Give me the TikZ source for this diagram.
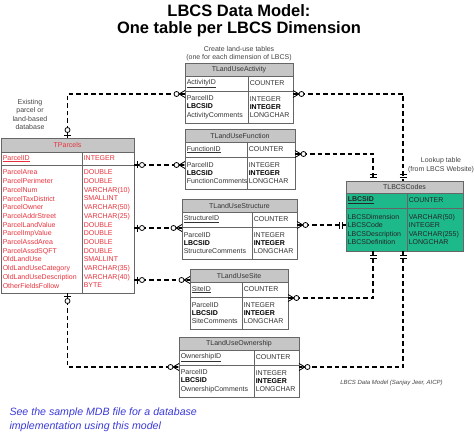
\documentclass[tikz,border=0pt]{standalone}
\usepackage{fontspec}
\setmainfont{Liberation Sans}
\usepackage{tikz}
\usetikzlibrary{
	positioning
}

\definecolor{hdrgray}{HTML}{C6C6C6}
\definecolor{tblline}{HTML}{666666}
\definecolor{tbltext}{HTML}{333333}
\definecolor{parcelred}{HTML}{E8313B}
\definecolor{lbcsgreen}{HTML}{1DB98A}
\definecolor{notegray}{HTML}{444444}
\definecolor{noteblue}{HTML}{3A3AD8}

\newcommand\tblfont{\fontsize{7}{8.4}\selectfont}
\newcommand\fk[1]{\textcolor{black}{\textbf{#1}}}

\begin{document}
\begin{tikzpicture}[
		x=1pt, y=-1pt,
		tbl/.style={draw=tblline, line width=0.8pt, inner sep=0pt, outer sep=0pt, anchor=north west, font=\tblfont, text=tbltext},
		hdr/.style={tbl, fill=hdrgray, align=center},
		keyrow/.style={tbl, align=left, inner xsep=1.8pt, minimum height=15pt},
		fieldrows/.style={tbl, align=left, inner xsep=1.8pt, minimum height=#1pt},
		link/.style={line width=1.2pt, dash pattern=on 4.5pt off 3pt},
		note/.style={font=\fontsize{7}{8.3}\selectfont, text=notegray, align=center},
		zeroone/.pic={
			\draw[solid, line width=0.8pt] (3,-3.5) -- (3,3.5);
			\draw[solid, line width=0.8pt, fill=white] (8,0) circle[radius=2.5];
		},
		zeromany/.pic={
			\draw[solid, line width=0.8pt] (0,-3.5) -- (6,0) -- (0,3.5) (0,0) -- (6,0);
			\draw[solid, line width=0.8pt, fill=white] (8.5,0) circle[radius=2.5];
		},
		oneone/.pic={
			\draw[solid, line width=0.8pt] (4,-3.5) -- (4,3.5) (7,-3.5) -- (7,3.5);
		}
	]
	\useasboundingbox (0,0) rectangle (474,433);

	\node[font=\fontsize{16.5}{17}\selectfont\bfseries, align=center] (title) at (239,20.5) {LBCS Data Model:\\One table per LBCS Dimension};
	\node[note] (createnote) at (239,54) {Create land-use tables\\(one for each dimension of LBCS)};
	\node[note] (existnote) at (30,114.5) {Existing\\parcel or\\land-based\\database};
	\node[note, font=\fontsize{7}{8.5}\selectfont] (lookupnote) at (441,165) {Lookup table\\(from LBCS Website)};
	\node[font=\fontsize{6}{7}\selectfont\itshape, text=notegray] (credit) at (391.5,383) {LBCS Data Model (Sanjay Jeer, AICP)};
	\node[anchor=west, font=\fontsize{10.6}{13.5}\selectfont\itshape, text=noteblue, align=left] (mdbnote) at (6,420) {See the sample MDB file for a database\\implementation using this model};

	\node[hdr, text=parcelred, minimum width=133pt, minimum height=14pt] (parcels) at (1,138) {TParcels};
	\node[keyrow, text=parcelred, minimum height=13pt, text width=77.4pt] (parcelsK) at (parcels.south west) {\underline{ParcelID}};
	\node[keyrow, text=parcelred, minimum height=13pt, text width=48.4pt, right=0pt of parcelsK] (parcelsKT) {INTEGER};
	\node[fieldrows=128, text=parcelred, font=\fontsize{7}{8.7}\selectfont, text width=77.4pt] (parcelsB) at (parcelsK.south west) {ParcelArea\\ParcelPerimeter\\ParcelNum\\ParcelTaxDistrict\\ParcelOwner\\ParcelAddrStreet\\ParcelLandValue\\ParcelImpValue\\ParcelAssdArea\\ParcelAssdSQFT\\OldLandUse\\OldLandUseCategory\\OldLandUseDescription\\OtherFieldsFollow};
	\node[fieldrows=128, text=parcelred, font=\fontsize{7}{8.7}\selectfont, text width=48.4pt, right=0pt of parcelsB] (parcelsBT) {DOUBLE\\DOUBLE\\VARCHAR(10)\\SMALLINT\\VARCHAR(50)\\VARCHAR(25)\\DOUBLE\\DOUBLE\\DOUBLE\\DOUBLE\\SMALLINT\\VARCHAR(35)\\VARCHAR(40)\\BYTE};

	\node[hdr, minimum width=108pt, minimum height=13pt] (act) at (185,63) {TLandUseActivity};
	\node[keyrow, text width=59.4pt] (actK) at (act.south west) {\underline{ActivityID}};
	\node[keyrow, text width=41.4pt, right=0pt of actK] (actKT) {COUNTER};
	\node[fieldrows=32, text width=59.4pt] (actB) at (actK.south west) {ParcelID\\\fk{LBCSID}\\ActivityComments};
	\node[fieldrows=32, text width=41.4pt, right=0pt of actB] (actBT) {INTEGER\\\fk{INTEGER}\\LONGCHAR};

	\node[hdr, minimum width=110pt, minimum height=13pt] (func) at (185,129) {TLandUseFunction};
	\node[keyrow, text width=58.4pt] (funcK) at (func.south west) {\underline{FunctionID}};
	\node[keyrow, text width=44.4pt, right=0pt of funcK] (funcKT) {COUNTER};
	\node[fieldrows=32, text width=58.4pt] (funcB) at (funcK.south west) {ParcelID\\\fk{LBCSID}\\FunctionComments};
	\node[fieldrows=32, text width=44.4pt, right=0pt of funcB] (funcBT) {INTEGER\\\fk{INTEGER}\\LONGCHAR};

	\node[hdr, minimum width=115pt, minimum height=13pt] (str) at (182,199) {TLandUseStructure};
	\node[keyrow, text width=66.4pt] (strK) at (str.south west) {\underline{StructureID}};
	\node[keyrow, text width=41.4pt, right=0pt of strK] (strKT) {COUNTER};
	\node[fieldrows=32, text width=66.4pt] (strB) at (strK.south west) {ParcelID\\\fk{LBCSID}\\StructureComments};
	\node[fieldrows=32, text width=41.4pt, right=0pt of strB] (strBT) {INTEGER\\\fk{INTEGER}\\LONGCHAR};

	\node[hdr, minimum width=98pt, minimum height=13pt] (site) at (190,269) {TLandUseSite};
	\node[keyrow, text width=48.4pt] (siteK) at (site.south west) {\underline{SiteID}};
	\node[keyrow, text width=42.4pt, right=0pt of siteK] (siteKT) {COUNTER};
	\node[fieldrows=32, text width=48.4pt] (siteB) at (siteK.south west) {ParcelID\\\fk{LBCSID}\\SiteComments};
	\node[fieldrows=32, text width=42.4pt, right=0pt of siteB] (siteBT) {INTEGER\\\fk{INTEGER}\\LONGCHAR};

	\node[hdr, minimum width=120pt, minimum height=13pt] (own) at (179,337) {TLandUseOwnership};
	\node[keyrow, text width=71.4pt] (ownK) at (own.south west) {\underline{OwnershipID}};
	\node[keyrow, text width=41.4pt, right=0pt of ownK] (ownKT) {COUNTER};
	\node[fieldrows=32, text width=71.4pt] (ownB) at (ownK.south west) {ParcelID\\\fk{LBCSID}\\OwnershipComments};
	\node[fieldrows=32, text width=41.4pt, right=0pt of ownB] (ownBT) {INTEGER\\\fk{INTEGER}\\LONGCHAR};

	\node[hdr, minimum width=117pt, minimum height=12pt] (codes) at (346,181) {TLBCSCodes};
	\node[keyrow, fill=lbcsgreen, text=black!85, text width=57.4pt] (codesK) at (codes.south west) {\underline{\textbf{LBCSID}}};
	\node[keyrow, fill=lbcsgreen, text=black!85, text width=52.4pt, right=0pt of codesK] (codesKT) {COUNTER};
	\node[fieldrows=43, fill=lbcsgreen, text=black!85, text width=57.4pt] (codesB) at (codesK.south west) {LBCSDimension\\LBCSCode\\LBCSDescription\\LBCSDefinition};
	\node[fieldrows=43, fill=lbcsgreen, text=black!85, text width=52.4pt, right=0pt of codesB] (codesBT) {VARCHAR(50)\\INTEGER\\VARCHAR(255)\\LONGCHAR};

	\coordinate (actIn) at ([yshift=-3pt]actB.north west);
	\coordinate (actOut) at ([yshift=-3pt]actBT.north east);
	\coordinate (funcIn) at (parcelsKT.south east -| funcB.west);
	\coordinate (funcOut) at ([yshift=3pt]funcBT.north east);
	\coordinate (strIn) at ([yshift=-1pt]strB.north west);
	\coordinate (strOut) at ([yshift=2pt]strBT.north east);
	\coordinate (siteIn) at ([yshift=2pt]siteK.north west);
	\coordinate (siteOut) at ([yshift=-1pt]siteBT.north east);
	\coordinate (ownIn) at ([yshift=-2pt]ownB.north west);
	\coordinate (ownOut) at ([yshift=-2pt]ownBT.north east);
	\coordinate (lkOuter) at ([xshift=-1.5pt]codes.north);
	\coordinate (lkInner) at ([xshift=-31.5pt]codes.north);
	\coordinate (lkOuterS) at (lkOuter |- codesB.south);
	\coordinate (lkInnerS) at (lkInner |- codesB.south);
	\coordinate (parcelsS) at (parcels.north |- parcelsB.south);

	\draw[link] (parcels.north) |- (actIn);
	\draw[link] (actOut) -| (lkOuter);
	\draw[link] (funcOut) -| (lkInner);
	\draw[link] (strOut) -- (strOut -| codesB.west);
	\draw[link] (lkInnerS) |- (siteOut);
	\draw[link] (lkOuterS) |- (ownOut);
	\draw[link] (parcelsS) |- (ownIn);
	\draw[link] (funcIn -| parcelsKT.east) -- (funcIn);
	\draw[link] (strIn -| parcelsBT.east) -- (strIn);
	\draw[link] (siteIn -| parcelsBT.east) -- (siteIn);

	\pic[rotate=90] at (parcels.north) {zeroone};
	\pic[rotate=-90] at (parcelsS) {zeroone};
	\pic at (funcIn -| parcelsKT.east) {zeroone};
	\pic at (strIn -| parcelsBT.east) {zeroone};
	\pic at (siteIn -| parcelsBT.east) {zeroone};
	\pic[rotate=180] at (actIn) {zeromany};
	\pic[rotate=180] at (funcIn) {zeromany};
	\pic[rotate=180] at (strIn) {zeromany};
	\pic[rotate=180] at (siteIn) {zeromany};
	\pic[rotate=180] at (ownIn) {zeromany};
	\pic at (actOut) {zeromany};
	\pic at (funcOut) {zeromany};
	\pic at (strOut) {zeromany};
	\pic at (siteOut) {zeromany};
	\pic at (ownOut) {zeromany};
	\pic[rotate=90] at (lkOuter) {oneone};
	\pic[rotate=90] at (lkInner) {oneone};
	\pic[rotate=-90] at (lkOuterS) {oneone};
	\pic[rotate=-90] at (lkInnerS) {oneone};
	\pic[rotate=180] at (strOut -| codesB.west) {oneone};
\end{tikzpicture}
\end{document}
